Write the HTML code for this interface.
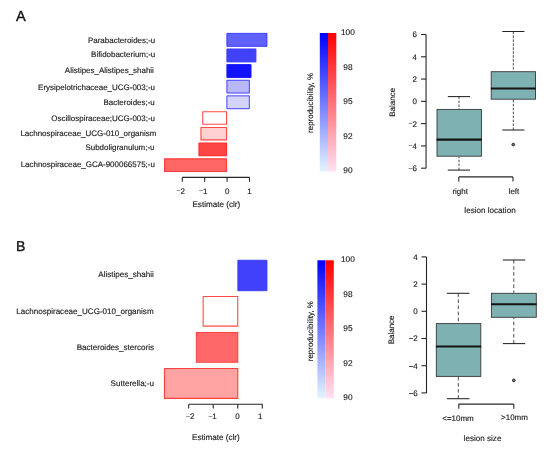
<!DOCTYPE html>
<html><head><meta charset="utf-8"><title>Figure</title>
<style>
html,body{margin:0;padding:0;background:#fff;}
svg{display:block;font-family:'Liberation Sans',Arial,sans-serif;filter:blur(0.35px);}
text{font-family:'Liberation Sans',Arial,sans-serif;text-rendering:geometricPrecision;stroke:#222;stroke-width:0.15px;}
</style></head>
<body>
<svg width="550" height="449" viewBox="0 0 550 449">
<rect x="0" y="0" width="550" height="449" fill="#ffffff"/>
<text x="16.1" y="20.9" font-size="14.6" text-anchor="start" fill="#111" style="stroke:#111;stroke-width:0.35px">A</text>
<rect x="226.88" y="33.38" width="40.05" height="12.95" fill="#6060fa" stroke="#3a3aff" stroke-width="0.95" stroke-linejoin="round"/>
<text x="155.3" y="43.0" font-size="7.97" text-anchor="end" fill="#222">Parabacteroides;-u</text>
<rect x="226.88" y="48.98" width="29.05" height="12.95" fill="#4141fa" stroke="#3a3aff" stroke-width="0.95" stroke-linejoin="round"/>
<text x="155.3" y="56.8" font-size="7.97" text-anchor="end" fill="#222">Bifidobacterium;-u</text>
<rect x="226.88" y="64.57" width="24.15" height="12.95" fill="#1212ff" stroke="#1a1aff" stroke-width="0.95" stroke-linejoin="round"/>
<text x="153.9" y="72.7" font-size="7.97" text-anchor="end" fill="#222">Alistipes_Alistipes_shahii</text>
<rect x="226.88" y="80.27" width="22.45" height="12.75" fill="#b8b8fa" stroke="#3a3aff" stroke-width="0.95" stroke-linejoin="round"/>
<text x="155" y="89.8" font-size="7.97" text-anchor="end" fill="#222">Erysipelotrichaceae_UCG-003;-u</text>
<rect x="226.88" y="95.87" width="22.45" height="12.85" fill="#d4d4fb" stroke="#3a3aff" stroke-width="0.95" stroke-linejoin="round"/>
<text x="154.8" y="105.2" font-size="7.97" text-anchor="end" fill="#222">Bacteroides;-u</text>
<rect x="202.75" y="111.75" width="23.80" height="12.50" fill="#ffffff" stroke="#ff4a4a" stroke-width="1.1" stroke-linejoin="round"/>
<text x="155" y="120.9" font-size="7.97" text-anchor="end" fill="#222">Oscillospiraceae;UCG-003;-u</text>
<rect x="200.95" y="127.55" width="25.60" height="12.30" fill="#ffd0d0" stroke="#ff4a4a" stroke-width="1.1" stroke-linejoin="round"/>
<text x="156.4" y="136.4" font-size="7.97" text-anchor="end" fill="#222">Lachnospiraceae_UCG-010_organism</text>
<rect x="198.95" y="143.15" width="27.60" height="12.50" fill="#fb4444" stroke="#ff3030" stroke-width="1.1" stroke-linejoin="round"/>
<text x="154.5" y="149.9" font-size="7.97" text-anchor="end" fill="#222">Subdoligranulum;-u</text>
<rect x="164.55" y="158.85" width="62.00" height="12.60" fill="#ff6666" stroke="#ff3c3c" stroke-width="1.1" stroke-linejoin="round"/>
<text x="154.9" y="167.2" font-size="7.97" text-anchor="end" fill="#222">Lachnospiraceae_GCA-900066575;-u</text>
<line x1="182.30" y1="177.40" x2="249.50" y2="177.40" stroke="#262626" stroke-width="1.1"/>
<line x1="182.30" y1="177.40" x2="182.30" y2="181.80" stroke="#262626" stroke-width="1.1"/>
<text x="180.8" y="193.7" font-size="7.97" text-anchor="middle" fill="#222"><tspan font-size="6.8" dy="-0.45">−</tspan><tspan dy="0.45">2</tspan></text>
<line x1="204.70" y1="177.40" x2="204.70" y2="181.80" stroke="#262626" stroke-width="1.1"/>
<text x="203.20000000000002" y="193.7" font-size="7.97" text-anchor="middle" fill="#222"><tspan font-size="6.8" dy="-0.45">−</tspan><tspan dy="0.45">1</tspan></text>
<line x1="227.10" y1="177.40" x2="227.10" y2="181.80" stroke="#262626" stroke-width="1.1"/>
<text x="227.10000000000002" y="193.7" font-size="7.97" text-anchor="middle" fill="#222">0</text>
<line x1="249.50" y1="177.40" x2="249.50" y2="181.80" stroke="#262626" stroke-width="1.1"/>
<text x="249.5" y="193.7" font-size="7.97" text-anchor="middle" fill="#222">1</text>
<text x="216.3" y="206.8" font-size="8.1" text-anchor="middle" fill="#222">Estimate (clr)</text>
<defs>
<linearGradient id="gb" x1="0" y1="0" x2="0" y2="1"><stop offset="0" stop-color="#0000ff"/><stop offset="1" stop-color="#e4f4ff"/></linearGradient>
<linearGradient id="gr" x1="0" y1="0" x2="0" y2="1"><stop offset="0" stop-color="#ff0000"/><stop offset="1" stop-color="#ffe2f3"/></linearGradient>
</defs>
<rect x="319.8" y="33" width="8.20" height="138.60" fill="url(#gb)"/>
<rect x="328" y="33" width="8.30" height="138.60" fill="url(#gr)"/>
<text x="347.9" y="35.3" font-size="8.3" text-anchor="middle" fill="#222">100</text>
<text x="347.9" y="69.8" font-size="8.3" text-anchor="middle" fill="#222">98</text>
<text x="347.9" y="104.3" font-size="8.3" text-anchor="middle" fill="#222">95</text>
<text x="347.9" y="138.8" font-size="8.3" text-anchor="middle" fill="#222">92</text>
<text x="347.9" y="173.3" font-size="8.3" text-anchor="middle" fill="#222">90</text>
<text x="313.1" y="102.9" font-size="7.97" text-anchor="middle" fill="#222" transform="rotate(-90 313.1 102.9)">reproducibility, %</text>
<line x1="426.05" y1="34.51" x2="426.05" y2="168.19" stroke="#262626" stroke-width="1.1"/>
<line x1="426.05" y1="34.51" x2="421.05" y2="34.51" stroke="#262626" stroke-width="1.1"/>
<text x="416.9" y="37.40999999999999" font-size="7.97" text-anchor="end" fill="#222">6</text>
<line x1="426.05" y1="56.79" x2="421.05" y2="56.79" stroke="#262626" stroke-width="1.1"/>
<text x="416.9" y="59.68999999999999" font-size="7.97" text-anchor="end" fill="#222">4</text>
<line x1="426.05" y1="79.07" x2="421.05" y2="79.07" stroke="#262626" stroke-width="1.1"/>
<text x="416.9" y="81.97" font-size="7.97" text-anchor="end" fill="#222">2</text>
<line x1="426.05" y1="101.35" x2="421.05" y2="101.35" stroke="#262626" stroke-width="1.1"/>
<text x="416.9" y="104.25" font-size="7.97" text-anchor="end" fill="#222">0</text>
<line x1="426.05" y1="123.63" x2="421.05" y2="123.63" stroke="#262626" stroke-width="1.1"/>
<text x="416.9" y="126.53" font-size="7.97" text-anchor="end" fill="#222"><tspan font-size="6.8" dy="-0.45">−</tspan><tspan dy="0.45">2</tspan></text>
<line x1="426.05" y1="145.91" x2="421.05" y2="145.91" stroke="#262626" stroke-width="1.1"/>
<text x="416.9" y="148.81" font-size="7.97" text-anchor="end" fill="#222"><tspan font-size="6.8" dy="-0.45">−</tspan><tspan dy="0.45">4</tspan></text>
<line x1="426.05" y1="168.19" x2="421.05" y2="168.19" stroke="#262626" stroke-width="1.1"/>
<text x="416.9" y="171.09" font-size="7.97" text-anchor="end" fill="#222"><tspan font-size="6.8" dy="-0.45">−</tspan><tspan dy="0.45">6</tspan></text>
<line x1="459.00" y1="96.60" x2="459.00" y2="109.00" stroke="#383838" stroke-width="0.9" stroke-dasharray="2.5 1.45"/>
<line x1="459.00" y1="170.10" x2="459.00" y2="156.60" stroke="#383838" stroke-width="0.9" stroke-dasharray="2.5 1.45"/>
<line x1="447.80" y1="96.60" x2="470.10" y2="96.60" stroke="#222" stroke-width="1.05"/>
<line x1="447.80" y1="170.10" x2="470.10" y2="170.10" stroke="#222" stroke-width="1.05"/>
<rect x="437.00" y="109.40" width="44.40" height="46.80" fill="#7eb1b1" stroke="#383838" stroke-width="0.9"/>
<line x1="436.60" y1="139.60" x2="481.80" y2="139.60" stroke="#141414" stroke-width="2.05"/>
<line x1="513.30" y1="31.50" x2="513.30" y2="71.30" stroke="#383838" stroke-width="0.9" stroke-dasharray="2.5 1.45"/>
<line x1="513.30" y1="130.00" x2="513.30" y2="99.60" stroke="#383838" stroke-width="0.9" stroke-dasharray="2.5 1.45"/>
<line x1="502.30" y1="31.50" x2="524.40" y2="31.50" stroke="#222" stroke-width="1.05"/>
<line x1="502.30" y1="130.00" x2="524.40" y2="130.00" stroke="#222" stroke-width="1.05"/>
<rect x="491.20" y="71.70" width="44.30" height="27.50" fill="#7eb1b1" stroke="#383838" stroke-width="0.9"/>
<line x1="490.80" y1="88.40" x2="535.90" y2="88.40" stroke="#141414" stroke-width="2.05"/>
<circle cx="513.3" cy="144.6" r="1.35" fill="#6e7272" stroke="#2c2c2c" stroke-width="1"/>
<line x1="458.80" y1="176.90" x2="513.00" y2="176.90" stroke="#262626" stroke-width="1.1"/>
<line x1="458.80" y1="176.90" x2="458.80" y2="181.60" stroke="#262626" stroke-width="1.1"/>
<text x="460.2" y="194.2" font-size="7.97" text-anchor="middle" fill="#222">right</text>
<line x1="513.00" y1="176.90" x2="513.00" y2="181.60" stroke="#262626" stroke-width="1.1"/>
<text x="514" y="194.2" font-size="7.97" text-anchor="middle" fill="#222">left</text>
<text x="490" y="212.6" font-size="8.1" text-anchor="middle" fill="#222">lesion location</text>
<text x="394.6" y="102.3" font-size="7.97" text-anchor="middle" fill="#222" transform="rotate(-90 394.6 102.3)">Balance</text>
<text x="16.1" y="250.6" font-size="14.1" text-anchor="start" fill="#111" style="stroke:#111;stroke-width:0.35px">B</text>
<rect x="237.88" y="260.28" width="29.05" height="30.40" fill="#4141fb" stroke="#3a3aff" stroke-width="0.95" stroke-linejoin="round"/>
<text x="153.8" y="277.4" font-size="8.05" text-anchor="end" fill="#222">Alistipes_shahii</text>
<rect x="203.15" y="296.55" width="34.60" height="29.55" fill="#ffffff" stroke="#ff4a4a" stroke-width="1.1" stroke-linejoin="round"/>
<text x="153.6" y="313.9" font-size="8.05" text-anchor="end" fill="#222">Lachnospiraceae_UCG-010_organism</text>
<rect x="196.35" y="332.55" width="41.40" height="29.65" fill="#ff6868" stroke="#ff4040" stroke-width="1.1" stroke-linejoin="round"/>
<text x="154" y="349.7" font-size="8.05" text-anchor="end" fill="#222">Bacteroides_stercoris</text>
<rect x="164.45" y="368.55" width="73.30" height="29.85" fill="#ffa3a3" stroke="#ff4040" stroke-width="1.1" stroke-linejoin="round"/>
<text x="154" y="386" font-size="8.05" text-anchor="end" fill="#222">Sutterella;-u</text>
<line x1="188.90" y1="404.20" x2="262.50" y2="404.20" stroke="#262626" stroke-width="1.1"/>
<line x1="188.70" y1="404.20" x2="188.70" y2="408.50" stroke="#262626" stroke-width="1.1"/>
<text x="190.3" y="419.0" font-size="7.97" text-anchor="middle" fill="#222"><tspan font-size="6.8" dy="-0.45">−</tspan><tspan dy="0.45">2</tspan></text>
<line x1="213.23" y1="404.20" x2="213.23" y2="408.50" stroke="#262626" stroke-width="1.1"/>
<text x="212.6" y="419.0" font-size="7.97" text-anchor="middle" fill="#222"><tspan font-size="6.8" dy="-0.45">−</tspan><tspan dy="0.45">1</tspan></text>
<line x1="237.76" y1="404.20" x2="237.76" y2="408.50" stroke="#262626" stroke-width="1.1"/>
<text x="237.4" y="419.0" font-size="7.97" text-anchor="middle" fill="#222">0</text>
<line x1="262.29" y1="404.20" x2="262.29" y2="408.50" stroke="#262626" stroke-width="1.1"/>
<text x="260.1" y="419.0" font-size="7.97" text-anchor="middle" fill="#222">1</text>
<text x="215.9" y="440.0" font-size="8.1" text-anchor="middle" fill="#222">Estimate (clr)</text>
<rect x="317.4" y="260.3" width="8.10" height="138.00" fill="url(#gb)"/>
<rect x="325.5" y="260.3" width="8.30" height="138.00" fill="url(#gr)"/>
<text x="347.9" y="262.0" font-size="8.3" text-anchor="middle" fill="#222">100</text>
<text x="347.9" y="296.55" font-size="8.3" text-anchor="middle" fill="#222">98</text>
<text x="347.9" y="331.1" font-size="8.3" text-anchor="middle" fill="#222">95</text>
<text x="347.9" y="365.65" font-size="8.3" text-anchor="middle" fill="#222">92</text>
<text x="347.9" y="400.2" font-size="8.3" text-anchor="middle" fill="#222">90</text>
<text x="313.3" y="331.2" font-size="7.97" text-anchor="middle" fill="#222" transform="rotate(-90 313.3 331.2)">reproducibility, %</text>
<line x1="426.50" y1="257.00" x2="426.50" y2="393.10" stroke="#262626" stroke-width="1.1"/>
<line x1="426.50" y1="256.90" x2="421.50" y2="256.90" stroke="#262626" stroke-width="1.1"/>
<text x="417.8" y="259.8" font-size="7.97" text-anchor="end" fill="#222">4</text>
<line x1="426.50" y1="284.10" x2="421.50" y2="284.10" stroke="#262626" stroke-width="1.1"/>
<text x="417.8" y="287.0" font-size="7.97" text-anchor="end" fill="#222">2</text>
<line x1="426.50" y1="311.30" x2="421.50" y2="311.30" stroke="#262626" stroke-width="1.1"/>
<text x="417.8" y="314.2" font-size="7.97" text-anchor="end" fill="#222">0</text>
<line x1="426.50" y1="338.50" x2="421.50" y2="338.50" stroke="#262626" stroke-width="1.1"/>
<text x="417.8" y="341.4" font-size="7.97" text-anchor="end" fill="#222">−2</text>
<line x1="426.50" y1="365.70" x2="421.50" y2="365.70" stroke="#262626" stroke-width="1.1"/>
<text x="417.8" y="368.59999999999997" font-size="7.97" text-anchor="end" fill="#222">−4</text>
<line x1="426.50" y1="392.90" x2="421.50" y2="392.90" stroke="#262626" stroke-width="1.1"/>
<text x="417.8" y="395.79999999999995" font-size="7.97" text-anchor="end" fill="#222">−6</text>
<line x1="458.30" y1="293.30" x2="458.30" y2="323.20" stroke="#383838" stroke-width="0.9" stroke-dasharray="3.6 2.5"/>
<line x1="458.30" y1="398.70" x2="458.30" y2="376.80" stroke="#383838" stroke-width="0.9" stroke-dasharray="3.6 2.5"/>
<line x1="447.00" y1="293.30" x2="469.40" y2="293.30" stroke="#222" stroke-width="1.05"/>
<line x1="447.00" y1="398.70" x2="469.40" y2="398.70" stroke="#222" stroke-width="1.05"/>
<rect x="436.30" y="323.60" width="44.50" height="52.80" fill="#7eb1b1" stroke="#383838" stroke-width="0.9"/>
<line x1="435.90" y1="346.50" x2="481.20" y2="346.50" stroke="#141414" stroke-width="2.05"/>
<line x1="513.80" y1="260.00" x2="513.80" y2="292.90" stroke="#383838" stroke-width="0.9" stroke-dasharray="3.6 2.5"/>
<line x1="513.80" y1="343.60" x2="513.80" y2="317.70" stroke="#383838" stroke-width="0.9" stroke-dasharray="3.6 2.5"/>
<line x1="502.90" y1="260.00" x2="525.20" y2="260.00" stroke="#222" stroke-width="1.05"/>
<line x1="502.90" y1="343.60" x2="525.20" y2="343.60" stroke="#222" stroke-width="1.05"/>
<rect x="491.40" y="293.30" width="44.90" height="24.00" fill="#7eb1b1" stroke="#383838" stroke-width="0.9"/>
<line x1="491.00" y1="304.30" x2="536.70" y2="304.30" stroke="#141414" stroke-width="2.05"/>
<circle cx="513.8" cy="380.4" r="1.35" fill="#6e7272" stroke="#2c2c2c" stroke-width="1"/>
<line x1="458.80" y1="404.10" x2="513.80" y2="404.10" stroke="#262626" stroke-width="1.1"/>
<line x1="458.80" y1="404.10" x2="458.80" y2="408.80" stroke="#262626" stroke-width="1.1"/>
<text x="458" y="421.2" font-size="7.97" text-anchor="middle" fill="#222">&lt;=10mm</text>
<line x1="513.80" y1="404.10" x2="513.80" y2="408.80" stroke="#262626" stroke-width="1.1"/>
<text x="514.5" y="419.8" font-size="7.97" text-anchor="middle" fill="#222">&gt;10mm</text>
<text x="482.5" y="440.5" font-size="8.1" text-anchor="middle" fill="#222">lesion size</text>
<text x="394.2" y="329.9" font-size="7.97" text-anchor="middle" fill="#222" transform="rotate(-90 394.2 329.9)">Balance</text>
</svg>
</body></html>
